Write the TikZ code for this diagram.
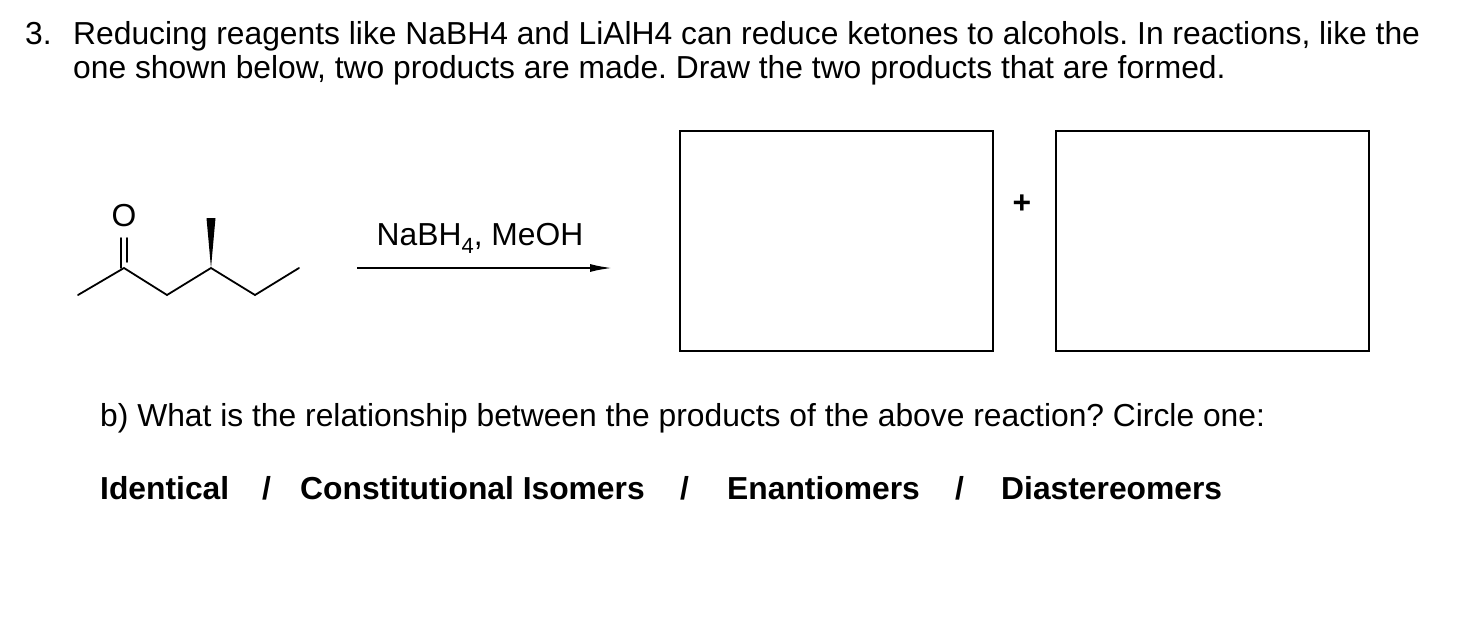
\documentclass[tikz,border=0pt]{standalone}
\usepackage{fontspec}
\setmainfont{Liberation Sans}
\usetikzlibrary{arrows.meta}
\frenchspacing
\newcommand{\mysub}[1]{\raisebox{-0.25em}{\fontsize{22}{24}\selectfont #1}}
\begin{document}
\begin{tikzpicture}[x=1pt,y=-1pt,
  txt/.style={anchor=base west,inner sep=0pt,font=\fontsize{31.8}{34}\selectfont},
  btxt/.style={txt,font=\fontsize{31.8}{34}\selectfont\bfseries},
  bond/.style={line width=1.8pt,line cap=round},
  box/.style={draw,line width=1.8pt}]
\useasboundingbox (0,0) rectangle (1478,622);
\node[txt] (n3) at (25,44) {3.};
\node[txt] (l1) at (73,44) {Reducing reagents like NaBH4 and LiAlH4 can reduce ketones to alcohols. In reactions, like the};
\node[txt] (l2) at (73,78) {one shown below, two products are made. Draw the two products that are formed.};
% molecule
\coordinate (c1) at (78,295);
\coordinate (c2) at (124,268);
\coordinate (c3) at (167,295);
\coordinate (c4) at (211,268);
\coordinate (c5) at (255,295);
\coordinate (c6) at (299,268);
\node[font=\fontsize{31.8}{34}\selectfont,inner sep=1pt] (o) at (124,216) {O};
\draw[bond] (c1)--(c2)--(c3)--(c4)--(c5)--(c6);
\draw[bond] (121,238)--(121,268);
\draw[bond] (127,238)--(127,262);
\fill (c4) -- (206.5,218) -- (215.5,218) -- cycle;
% arrow
\coordinate (a1) at (357,268);
\coordinate (a2) at (612,268);
\draw[line width=1.8pt,-{Latex[length=22pt,width=8pt]}] (a1)--(a2);
\node[font=\fontsize{31.8}{34}\selectfont] (r) at (480,238) {NaBH\mysub{4}, MeOH};
% boxes
\node[box,minimum width=313pt,minimum height=220pt,anchor=north west,inner sep=0pt] (b1) at (679,130) {};
\node[box,minimum width=313pt,minimum height=220pt,anchor=north west,inner sep=0pt] (b2) at (1055,130) {};
\node[font=\fontsize{31.8}{34}\selectfont\bfseries] (plus) at (1022,204) {+};
\node[txt] (q) at (100,426) {b) What is the relationship between the products of the above reaction? Circle one:};
\node[btxt] (o1) at (100,499) {Identical};
\node[btxt] (s1) at (262,499) {/};
\node[btxt] (o2) at (300,499) {Constitutional Isomers};
\node[btxt] (s2) at (680,499) {/};
\node[btxt] (o3) at (727,499) {Enantiomers};
\node[btxt] (s3) at (955,499) {/};
\node[btxt] (o4) at (1001,499) {Diastereomers};
\end{tikzpicture}
\end{document}
